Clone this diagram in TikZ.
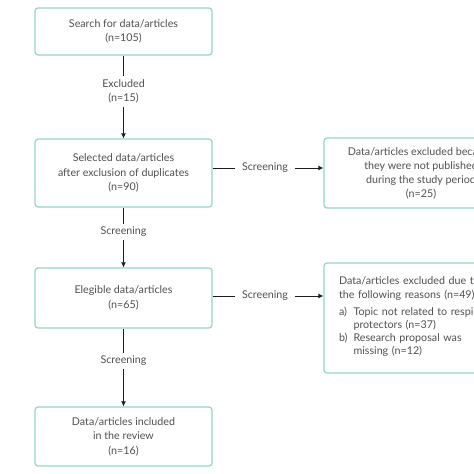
\documentclass[tikz,border=0pt]{standalone}
\usepackage{fontspec}
\setmainfont{Lato}
\usetikzlibrary{arrows.meta}
\definecolor{boxgreen}{RGB}{148,214,193}
\definecolor{txtgray}{RGB}{80,80,80}
\definecolor{linegray}{RGB}{30,30,30}
\begin{document}
\begin{tikzpicture}[x=1pt,y=-1pt,
  box/.style={draw=boxgreen,line width=1.2pt,rounded corners=3pt,fill=white,
    text=txtgray,align=center,inner sep=0pt,
    font=\fontsize{10.7}{14.5}\selectfont},
  lab/.style={text=txtgray,align=center,inner xsep=7pt,inner ysep=3pt,
    font=\fontsize{10.7}{14.5}\selectfont},
  conn/.style={draw=linegray,line width=1pt},
  arr/.style={conn,-{Latex[length=5pt,width=5pt]}}]
\useasboundingbox (0,0) rectangle (474,474);
\clip (0,0) rectangle (474,474);
\fill[white] (0,0) rectangle (474,474);
\node[box,minimum width=177pt,minimum height=47pt] (b1) at (123.5,31.5)
  {Search for data/articles\\(n=105)};
\node[box,minimum width=177pt,minimum height=68pt] (b2) at (123.5,173)
  {Selected data/articles\\after exclusion of duplicates\\(n=90)};
\node[box,minimum width=177pt,minimum height=60pt] (b3) at (123.5,298)
  {Elegible data/articles\\(n=65)};
\node[box,minimum width=177pt,minimum height=59pt] (b4) at (123.5,436.5)
  {Data/articles included\\in the review\\(n=16)};
\node[box,minimum width=194pt,minimum height=70pt,font=\fontsize{10.7}{14}\selectfont] (bA) at (421,173)
  {Data/articles excluded because\\they were not published\\during the study period\\(n=25)};
\node[box,minimum width=194pt,minimum height=110pt,font=\fontsize{10.7}{13.7}\selectfont,
  align=left,text width=164pt,inner xsep=0pt] (bB) at (421,318)
  {Data/articles excluded due to\\the following reasons (n=49):\\[4pt]
   \begin{tabular}{@{}l@{\hspace{6pt}}l@{}}
   a) & Topic not related to respiratory\\[-0.5pt]
      & protectors (n=37)\\[-0.5pt]
   b) & Research proposal was\\[-0.5pt]
      & missing (n=12)
   \end{tabular}};
\node[lab] (l1) at (123.5,91.5) {Excluded\\(n=15)};
\node[lab] (l2) at (123.5,232) {Screening};
\node[lab] (l3) at (123.5,361) {Screening};
\node[lab] (l4) at (265,168) {Screening};
\node[lab] (l5) at (265,296) {Screening};
\draw[conn] (b1.south) -- (l1.north);
\draw[arr] (l1.south) -- (b2.north);
\draw[conn] (b2.south) -- (l2.north);
\draw[arr] (l2.south) -- (b3.north);
\draw[conn] (b3.south) -- (l3.north);
\draw[arr] (l3.south) -- (b4.north);
\draw[conn] (b2.east |- l4) -- (l4.west);
\draw[arr] (l4.east) -- (bA.west |- l4);
\draw[conn] (b3.east |- l5) -- (l5.west);
\draw[arr] (l5.east) -- (bB.west |- l5);
\end{tikzpicture}
\end{document}
